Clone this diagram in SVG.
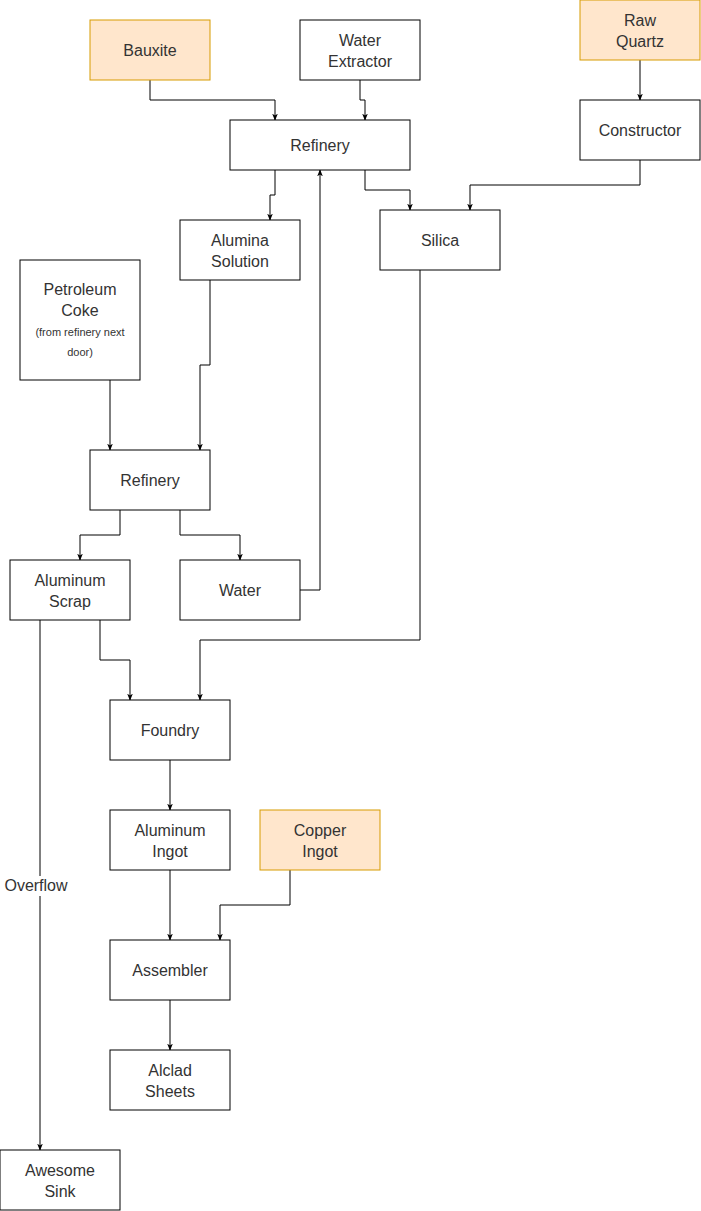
<svg xmlns="http://www.w3.org/2000/svg" width="701" height="1211" viewBox="0 0 701 1211">
<defs>
<style>
.n{fill:#fff;stroke:#000;stroke-width:1}
.o{fill:#ffe6cc;stroke:#d79b00;stroke-width:1}
text{font-family:"Liberation Sans",Arial,sans-serif;font-size:16px;fill:#333;text-anchor:middle}
.s{font-size:11px}
.e{fill:none;stroke:#000;stroke-width:1;marker-end:url(#a)}
</style>
<marker id="a" viewBox="0 0 10 10" refX="9" refY="5" markerWidth="7" markerHeight="7" orient="auto" markerUnits="userSpaceOnUse"><path d="M0,1 L10,5 L0,9 L2.5,5 Z" fill="#000"/></marker>
</defs>
<rect width="701" height="1211" fill="#fff"/>
<g id="connectors">
<path class="e" d="M150,80V100H275V120"/>
<path class="e" d="M360,80V100H365V120"/>
<path class="e" d="M640,60V100"/>
<path class="e" d="M275,170V195H270V220"/>
<path class="e" d="M365,170V190H410V210"/>
<path class="e" d="M640,160V185H470V210"/>
<path class="e" d="M210,280V365H200V450"/>
<path class="e" d="M110,380V450"/>
<path class="e" d="M120,510V535H80V560"/>
<path class="e" d="M180,510V535H240V560"/>
<path class="e" d="M300,590H320V170"/>
<path class="e" d="M420,270V640H200V700"/>
<path class="e" d="M100,620V660H130V700"/>
<path class="e" d="M40,620V1150"/>
<path class="e" d="M170,760V810"/>
<path class="e" d="M170,870V940"/>
<path class="e" d="M290,870V905H220V940"/>
<path class="e" d="M170,1000V1050"/>
<rect x="2" y="876" width="70" height="20" fill="#fff"/>
<text x="36" y="891">Overflow</text>
</g>
<g id="bauxite"><rect class="o" x="90" y="20" width="120" height="60"/><text x="150" y="56">Bauxite</text></g>
<g id="water-extractor"><rect class="n" x="300" y="20" width="120" height="60"/><text x="360" y="46">Water</text><text x="360" y="67">Extractor</text></g>
<g id="raw-quartz"><rect class="o" x="580" y="0" width="120" height="60"/><text x="640" y="26">Raw</text><text x="640" y="47">Quartz</text></g>
<g id="refinery1"><rect class="n" x="230" y="120" width="180" height="50"/><text x="320" y="151">Refinery</text></g>
<g id="constructor"><rect class="n" x="580" y="100" width="120" height="60"/><text x="640" y="136">Constructor</text></g>
<g id="alumina"><rect class="n" x="180" y="220" width="120" height="60"/><text x="240" y="246">Alumina</text><text x="240" y="267">Solution</text></g>
<g id="silica"><rect class="n" x="380" y="210" width="120" height="60"/><text x="440" y="246">Silica</text></g>
<g id="petroleum"><rect class="n" x="20" y="260" width="120" height="120"/><text x="80" y="295">Petroleum</text><text x="80" y="316">Coke</text><text class="s" x="80" y="336">(from refinery next</text><text class="s" x="80" y="356">door)</text></g>
<g id="refinery2"><rect class="n" x="90" y="450" width="120" height="60"/><text x="150" y="486">Refinery</text></g>
<g id="scrap"><rect class="n" x="10" y="560" width="120" height="60"/><text x="70" y="586">Aluminum</text><text x="70" y="607">Scrap</text></g>
<g id="water"><rect class="n" x="180" y="560" width="120" height="60"/><text x="240" y="596">Water</text></g>
<g id="foundry"><rect class="n" x="110" y="700" width="120" height="60"/><text x="170" y="736">Foundry</text></g>
<g id="ingot"><rect class="n" x="110" y="810" width="120" height="60"/><text x="170" y="836">Aluminum</text><text x="170" y="857">Ingot</text></g>
<g id="copper"><rect class="o" x="260" y="810" width="120" height="60"/><text x="320" y="836">Copper</text><text x="320" y="857">Ingot</text></g>
<g id="assembler"><rect class="n" x="110" y="940" width="120" height="60"/><text x="170" y="976">Assembler</text></g>
<g id="alclad"><rect class="n" x="110" y="1050" width="120" height="60"/><text x="170" y="1076">Alclad</text><text x="170" y="1097">Sheets</text></g>
<g id="sink"><rect class="n" x="0" y="1150" width="120" height="60"/><text x="60" y="1176">Awesome</text><text x="60" y="1197">Sink</text></g>
</svg>
